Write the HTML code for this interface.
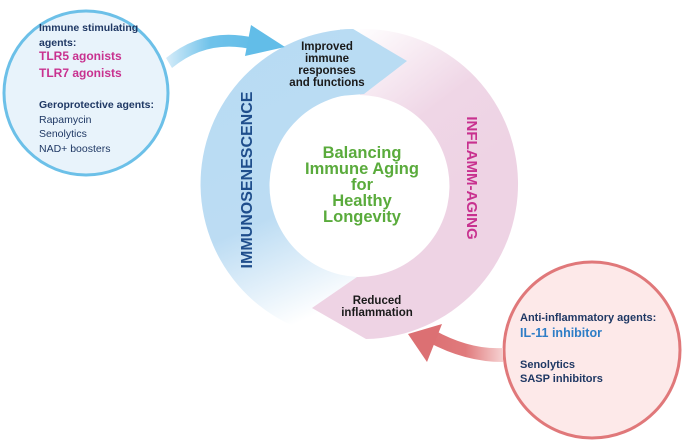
<!DOCTYPE html>
<html><head><meta charset="utf-8"><style>
html,body{margin:0;padding:0;background:#fff;}
svg{display:block;font-family:"Liberation Sans",Arial,sans-serif;}
</style></head><body>
<svg width="685" height="442" viewBox="0 0 685 442" xmlns="http://www.w3.org/2000/svg">
<defs>
<linearGradient id="bg" x1="0" y1="0" x2="0.3" y2="1">
<stop offset="0" stop-color="#b7dbf3"/><stop offset="0.65" stop-color="#bcdcf3"/><stop offset="1" stop-color="#ffffff"/>
</linearGradient>
<linearGradient id="pg" x1="0.2" y1="0" x2="0.5" y2="0.6">
<stop offset="0" stop-color="#ffffff"/><stop offset="0.6" stop-color="#efd6e6"/><stop offset="1" stop-color="#eed3e4"/>
</linearGradient>
<linearGradient id="ba" x1="0" y1="0" x2="1" y2="0">
<stop offset="0" stop-color="#d6ecf9"/><stop offset="0.5" stop-color="#6fc2ea"/><stop offset="1" stop-color="#62bde8"/>
</linearGradient>
<linearGradient id="ra" x1="1" y1="0" x2="0" y2="0">
<stop offset="0" stop-color="#f6d2d2"/><stop offset="0.5" stop-color="#e07a7c"/><stop offset="1" stop-color="#dc7073"/>
</linearGradient>
</defs>
<!-- blue arc -->
<path d="M358 339 A155 155 0 0 1 353 29 L407 61 L364 94 A91 91 0 0 0 358 277 Z" fill="url(#bg)"/>
<!-- pink arc -->
<path d="M360 29 A155 155 0 0 1 366 339 L312 308 L357 277 A91 91 0 0 0 360 95 Z" fill="url(#pg)"/>
<!-- blue arrowhead on top -->
<path d="M340 29.5 L353 29 L407 61 L364 94 L340 96 Z" fill="#b9dcf3"/>
<!-- circles -->
<circle cx="86" cy="93" r="82" fill="#e8f3fb" stroke="#6cc0e8" stroke-width="3"/>
<circle cx="592" cy="350" r="88" fill="#fde9e9" stroke="#e0787a" stroke-width="3"/>
<!-- blue arrow -->
<path d="M166 58 Q205 26 255 38 L255 50 Q208 38 172 68 Z" fill="url(#ba)"/>
<path d="M251 25 L285 47 L245 56 Z" fill="#62bde8"/>
<!-- red arrow -->
<path d="M503 348 Q470 350 434 330 L428 342 Q465 362 503 362 Z" fill="url(#ra)"/>
<path d="M408 334 L442 324 L427 362 Z" fill="#dc7073"/>
<!-- ring texts -->
<g font-weight="bold" font-size="11.5" fill="#1a1a1a" text-anchor="middle">
<text x="327" y="50">Improved</text><text x="327" y="62">immune</text><text x="327" y="74">responses</text><text x="327" y="86">and functions</text>
<text x="377" y="304">Reduced</text><text x="377" y="316">inflammation</text>
</g>
<text transform="translate(252,180) rotate(-90)" text-anchor="middle" font-weight="bold" font-size="16" fill="#1f4e8c">IMMUNOSENESCENCE</text>
<text transform="translate(467,178) rotate(90)" text-anchor="middle" font-weight="bold" font-size="15" fill="#c8318f">INFLAMM-AGING</text>
<g font-weight="bold" font-size="16.5" fill="#5aab3c" text-anchor="middle">
<text x="362" y="158">Balancing</text><text x="362" y="174">Immune Aging</text><text x="362" y="190">for</text><text x="362" y="206">Healthy</text><text x="362" y="222">Longevity</text>
</g>
<!-- left texts -->
<g font-size="10.5" fill="#1f3864">
<text x="39" y="31" font-weight="bold">Immune stimulating</text>
<text x="39" y="46" font-weight="bold">agents:</text>
<text x="39" y="60" font-weight="bold" font-size="12" fill="#c8318f">TLR5 agonists</text>
<text x="39" y="77" font-weight="bold" font-size="12" fill="#c8318f">TLR7 agonists</text>
<text x="39" y="108" font-weight="bold">Geroprotective agents:</text>
<text x="39" y="123">Rapamycin</text>
<text x="39" y="137">Senolytics</text>
<text x="39" y="152">NAD+ boosters</text>
</g>
<g font-size="11" fill="#1f3864" font-weight="bold">
<text x="520" y="321">Anti-inflammatory agents:</text>
<text x="520" y="337" font-size="12.5" fill="#2e7dc6">IL-11 inhibitor</text>
<text x="520" y="368">Senolytics</text>
<text x="520" y="382">SASP inhibitors</text>
</g>
</svg>
</body></html>
